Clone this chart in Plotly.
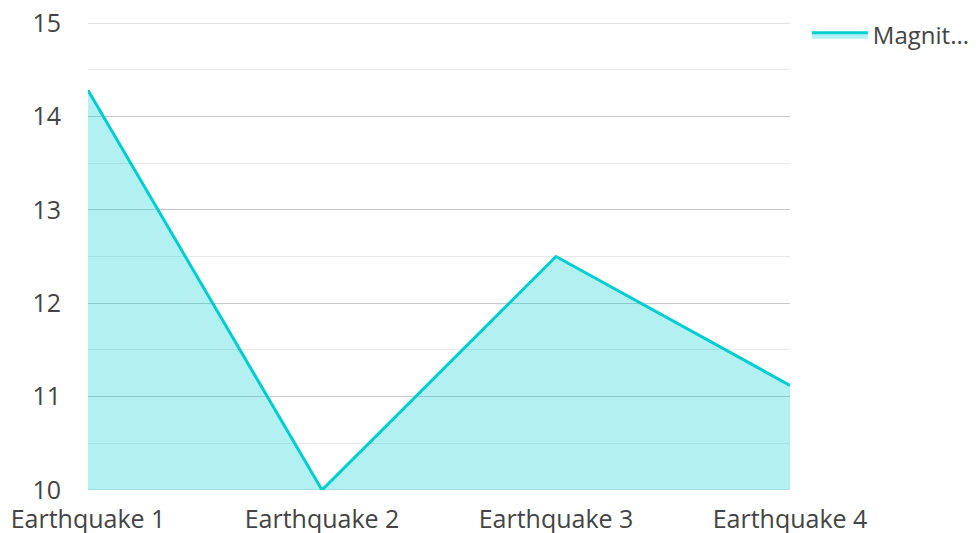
import plotly.graph_objects as go

categories = ["Earthquake 1", "Earthquake 2", "Earthquake 3", "Earthquake 4"]
magnitude = [14.28, 10.0, 12.5, 11.12]
series_name = "Magnit..."
y_ticks = [10, 11, 12, 13, 14, 15]

fig = go.Figure()
fig.add_trace(go.Scatter(
    x=categories, y=magnitude, name=series_name, mode="lines",
    line=dict(color="#00CED1", width=3),
    fill="tozeroy", fillcolor="rgba(0,206,209,0.3)",
    showlegend=True,
))

# edge gridlines (plotly hides gridlines lying on the plot edges)
for yv in (y_ticks[0], y_ticks[-1]):
    fig.add_hline(y=yv, line=dict(color="#c8c8c8", width=1), layer="below")

# The page body has an 8px margin; size the figure so it fits the window after that offset
fig.update_layout(
    width=971, height=525,
    margin=dict(l=80, r=189, t=15, b=43, autoexpand=False),
    paper_bgcolor="white", plot_bgcolor="white",
    font=dict(family="Open Sans", size=25, color="#444444"),
    legend=dict(x=1.024, y=1.022, xanchor="left", yanchor="top",
                font=dict(size=24, color="#444444"), itemwidth=56,
                bgcolor="rgba(0,0,0,0)"),
    xaxis=dict(type="category", range=[0, 3], showgrid=False, zeroline=False,
               showline=False, ticks="", ticklabelstandoff=12, automargin=False),
    yaxis=dict(range=[10, 15], tickvals=y_ticks, showgrid=True, gridcolor="#c8c8c8",
               gridwidth=1, zeroline=False, showline=False, ticks="",
               ticklabelstandoff=26, automargin=False, ticklabeloverflow="allow",
               minor=dict(dtick=0.5, showgrid=True, gridcolor="#e8e8e8", gridwidth=1)),
)

fig.write_html("out.html")
